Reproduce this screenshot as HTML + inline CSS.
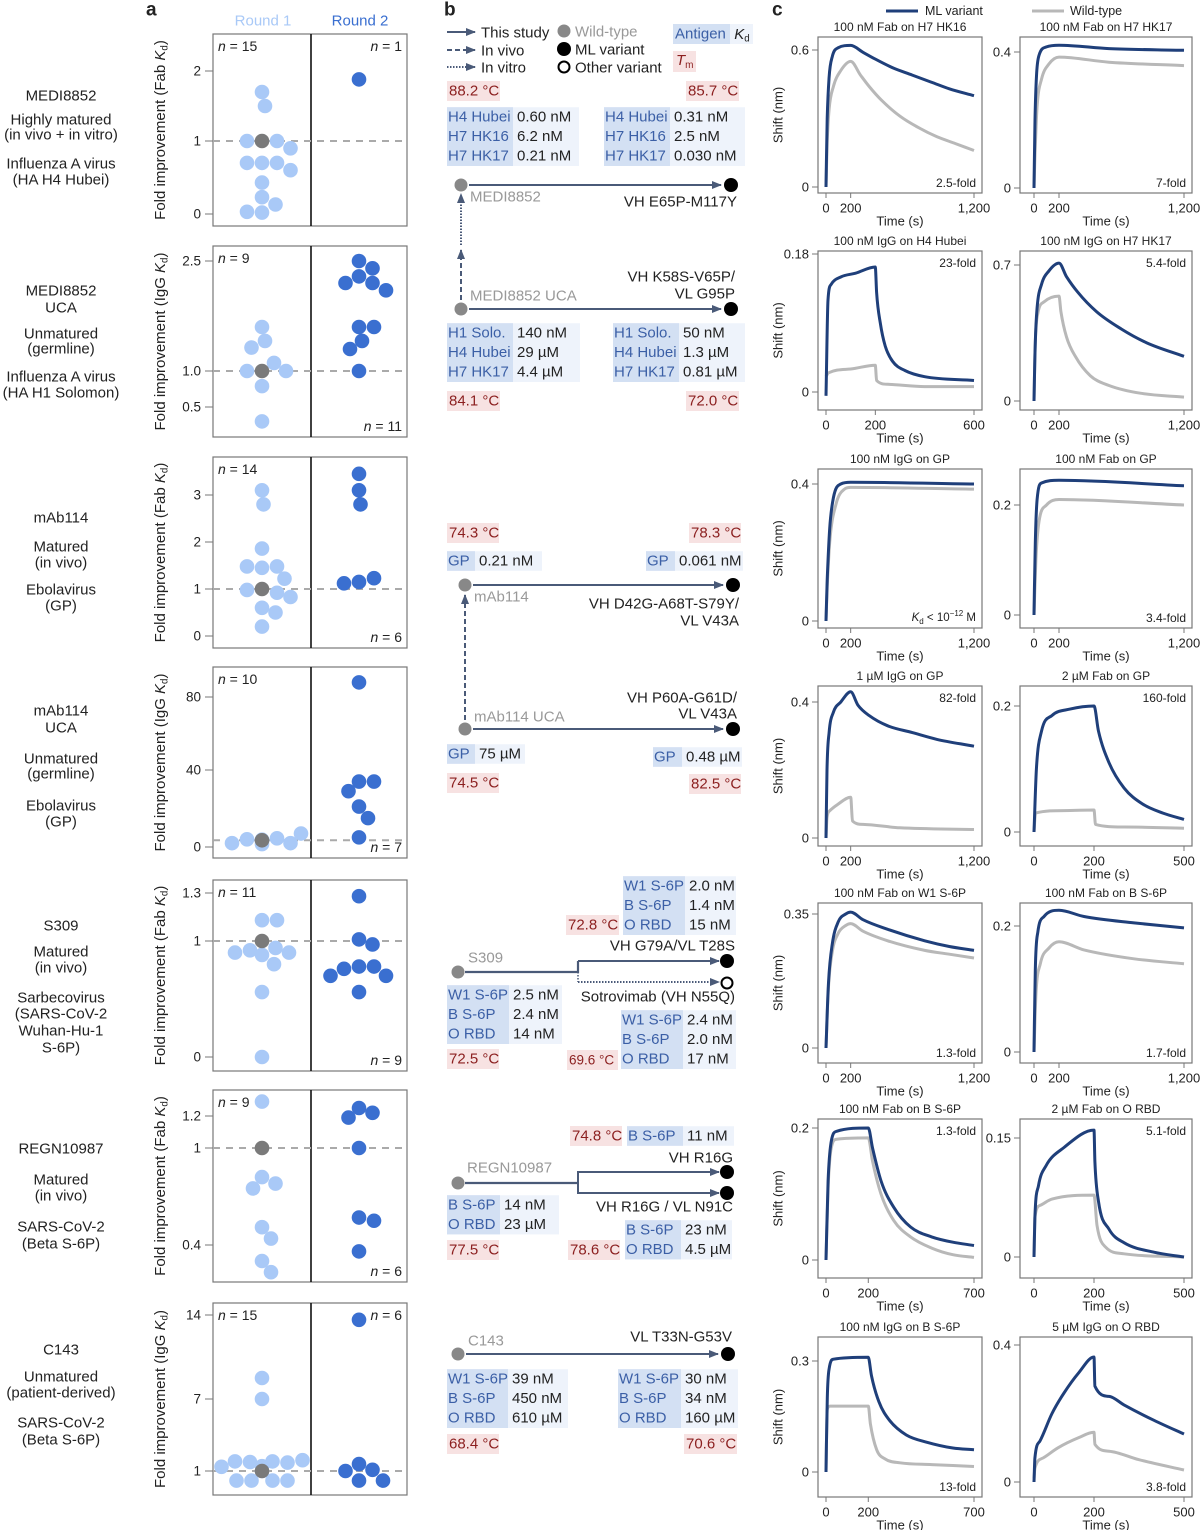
<!DOCTYPE html>
<html><head><meta charset="utf-8"><title>ML antibody affinity maturation figure</title>
<style>
html,body{margin:0;padding:0;background:#fff;}
svg{display:block;font-family:"Liberation Sans","DejaVu Sans",sans-serif;}
</style></head>
<body>
<svg id="fig" width="1200" height="1530" viewBox="0 0 1200 1530" xmlns="http://www.w3.org/2000/svg">
<defs>
<marker id="arr" markerWidth="10" markerHeight="8" refX="9" refY="4" orient="auto" markerUnits="userSpaceOnUse"><path d="M0,0 L10,4 L0,8 z" fill="#4a5a78"/></marker>
</defs>
</svg>
<script>
// ---------- Panel a data (fold improvement values) ----------
const a1_r1 = [1.7,1.5,1.0,1.0,0.9,0.7,0.7,0.7,0.6,0.43,0.23,0.13,0.02,0.03];
const a1_r2 = [1.88];
const a1_wt = [1.0];
const a2_r1 = [1.6,1.41,1.32,1.11,1.0,1.0,0.79,0.30];
const a2_r2 = [2.5,2.4,2.29,2.2,2.2,2.1,1.6,1.6,1.41,1.3,1.0];
const a2_wt = [1.0];
const a3_r1 = [3.1,2.8,1.86,1.45,1.48,1.48,1.22,0.92,0.98,0.83,0.6,0.5,0.2];
const a3_r2 = [3.45,3.1,2.8,1.15,1.23,1.12];
const a3_wt = [1.0];
const a4_r1 = [4.5,4,2,2,1.5,3,3.8,3.5,7];
const a4_r2 = [88,34,34,29,21,15,5];
const a4_wt = [3.5];
const a5_r1 = [1.13,1.13,0.94,0.92,0.9,0.9,0.88,0.8,0.56,0.0];
const a5_r2 = [1.28,1.01,0.97,0.78,0.78,0.76,0.7,0.7,0.56];
const a5_wt = [1.0];
const a6_r1 = [1.29,0.82,0.78,0.75,0.51,0.44,0.3,0.23];
const a6_r2 = [1.25,1.22,1.19,1.0,0.57,0.55,0.36];
const a6_wt = [1.0];
const a7_r1 = [8.75,7.0,1.8,1.75,1.7,1.8,1.9,1.35,1.4,1.0,0.2,0.2,0.2,0.2];
const a7_r2 = [13.6,1.58,1.1,1.0,0.2,0.2];
const a7_wt = [1.0];
const a1_ticks = [0,1,2], a2_ticks=[0.5,1.0,2.5], a3_ticks=[0,1,2,3], a4_ticks=[0,40,80], a5_ticks=[0,1,1.3], a6_ticks=[0.4,1,1.2], a7_ticks=[1,7,14];
const a_tickLabels = [["0","1","2"],["0.5","1.0","2.5"],["0","1","2","3"],["0","40","80"],["0","1","1.3"],["0.4","1","1.2"],["1","7","14"]];
const a_nLabels = [["n = 15","n = 1"],["n = 9","n = 11"],["n = 14","n = 6"],["n = 10","n = 7"],["n = 11","n = 9"],["n = 9","n = 6"],["n = 15","n = 6"]];

// ---------- Panel c data (BLI sensorgrams [time s, shift nm]) ----------
const c1_ml=[[0,0],[10,0.3],[25,0.48],[50,0.57],[100,0.61],[200,0.62],[300,0.59],[400,0.56],[550,0.52],[700,0.49],[850,0.46],[1000,0.43],[1200,0.40]];
const c1_wt=[[0,0],[10,0.2],[25,0.34],[60,0.44],[120,0.51],[200,0.55],[280,0.49],[350,0.44],[450,0.38],[600,0.31],[750,0.26],[900,0.22],[1050,0.19],[1200,0.16]];
const c2_ml=[[0,0],[8,0.2],[20,0.33],[40,0.39],[100,0.415],[200,0.42],[600,0.41],[1200,0.405]];
const c2_wt=[[0,0],[10,0.12],[25,0.24],[60,0.32],[120,0.365],[200,0.385],[600,0.37],[1200,0.36]];
const c3_ml=[[0,-0.005],[8,0.12],[20,0.14],[60,0.15],[120,0.155],[200,0.163],[205,0.13],[220,0.09],[240,0.06],[270,0.04],[320,0.028],[400,0.02],[600,0.015]];
const c3_wt=[[0,0.02],[10,0.025],[100,0.03],[200,0.035],[205,0.015],[250,0.01],[400,0.007],[600,0.007]];
const c4_ml=[[0,0],[10,0.3],[25,0.48],[60,0.6],[120,0.67],[200,0.71],[260,0.64],[350,0.56],[500,0.46],[700,0.37],[900,0.3],[1200,0.23]];
const c4_wt=[[0,0],[10,0.3],[30,0.45],[80,0.51],[200,0.54],[215,0.46],[260,0.33],[330,0.23],[450,0.13],[600,0.08],[850,0.04],[1200,0.02]];
const c5_ml=[[0,0],[10,0.12],[30,0.27],[60,0.36],[120,0.4],[200,0.405],[1200,0.4]];
const c5_wt=[[0,0],[10,0.1],[30,0.23],[80,0.34],[150,0.385],[200,0.39],[1200,0.385]];
const c6_ml=[[0,0],[10,0.13],[25,0.21],[60,0.24],[200,0.245],[1200,0.235]];
const c6_wt=[[0,0],[15,0.1],[40,0.17],[100,0.2],[200,0.21],[1200,0.2]];
const c7_ml=[[0,0],[8,0.2],[25,0.31],[60,0.37],[120,0.4],[200,0.43],[260,0.39],[350,0.36],[500,0.33],[700,0.31],[900,0.29],[1200,0.27]];
const c7_wt=[[0,0],[8,0.06],[30,0.08],[100,0.1],[200,0.12],[215,0.05],[300,0.04],[600,0.03],[1200,0.025]];
const c8_ml=[[0,0],[8,0.1],[25,0.16],[60,0.185],[120,0.195],[200,0.2],[215,0.16],[250,0.11],[300,0.07],[360,0.045],[430,0.03],[500,0.02]];
const c8_wt=[[0,0],[5,0.03],[100,0.034],[200,0.035],[205,0.012],[300,0.008],[500,0.006]];
const c9_ml=[[0,0],[20,0.17],[50,0.27],[100,0.33],[160,0.35],[200,0.355],[300,0.335],[500,0.31],[800,0.28],[1000,0.265],[1200,0.255]];
const c9_wt=[[0,0],[20,0.16],[50,0.25],[100,0.3],[160,0.32],[200,0.325],[300,0.305],[500,0.28],[800,0.255],[1000,0.245],[1200,0.235]];
const c10_ml=[[0,0],[10,0.13],[30,0.19],[80,0.215],[200,0.225],[400,0.215],[800,0.205],[1200,0.197]];
const c10_wt=[[0,0],[15,0.09],[50,0.14],[120,0.165],[200,0.175],[400,0.162],[800,0.148],[1200,0.14]];
const c11_ml=[[0,0],[10,0.12],[25,0.18],[50,0.195],[200,0.2],[220,0.17],[260,0.12],[320,0.08],[400,0.05],[500,0.035],[600,0.027],[700,0.022]];
const c11_wt=[[0,0],[10,0.11],[25,0.17],[50,0.183],[200,0.185],[220,0.15],[260,0.1],[320,0.06],[400,0.035],[500,0.018],[600,0.008],[700,0.004]];
const c12_ml=[[0,0],[3,0.05],[15,0.09],[40,0.115],[100,0.138],[200,0.16],[203,0.12],[215,0.07],[250,0.035],[300,0.018],[400,0.006],[500,0.0]];
const c12_wt=[[0,0],[3,0.05],[20,0.065],[60,0.073],[200,0.078],[210,0.04],[240,0.012],[300,0.004],[500,0.0]];
const c13_ml=[[0,0],[6,0.2],[15,0.28],[35,0.305],[200,0.31],[215,0.26],[250,0.19],[300,0.14],[380,0.1],[480,0.08],[600,0.065],[700,0.06]];
const c13_wt=[[0,0],[6,0.17],[20,0.178],[200,0.178],[210,0.13],[240,0.06],[280,0.035],[350,0.025],[500,0.02],[700,0.015]];
const c14_ml=[[0,0],[3,0.07],[20,0.12],[60,0.2],[100,0.26],[150,0.32],[200,0.365],[203,0.28],[250,0.25],[300,0.225],[400,0.18],[500,0.14]];
const c14_wt=[[0,0.01],[3,0.04],[30,0.07],[80,0.1],[150,0.13],[200,0.145],[203,0.11],[250,0.09],[350,0.065],[500,0.035]];

const NS='http://www.w3.org/2000/svg';
const svg=document.getElementById('fig');
function el(tag, attrs, name){
  const e=document.createElementNS(NS,tag);
  for(const k in attrs) e.setAttribute(k,attrs[k]);
  
  
  svg.appendChild(e);
  return e;
}
function txt(x,y,s,o,name){
  o=o||{};
  const e=el('text',{x:x,y:y,'font-size':o.size||15,fill:o.fill||'#222','text-anchor':o.anchor||'start','dominant-baseline':'central','font-weight':o.weight||'normal','font-style':o.style||'normal'},name);
  e.textContent=s;
  if(o.rot) e.setAttribute('transform','rotate('+o.rot+' '+x+' '+y+')');
  return e;
}
function kdText(x,y,pre,size,rot,name){
  const e=el('text',{x:x,y:y,'font-size':size,fill:'#222','text-anchor':'middle','dominant-baseline':'central'},name);
  if(rot) e.setAttribute('transform','rotate('+rot+' '+x+' '+y+')');
  const t1=document.createElementNS(NS,'tspan'); t1.textContent=pre; e.appendChild(t1);
  const t2=document.createElementNS(NS,'tspan'); t2.setAttribute('font-style','italic'); t2.textContent='K'; e.appendChild(t2);
  const t3=document.createElementNS(NS,'tspan'); t3.setAttribute('font-size',size*0.65); t3.setAttribute('dy',size*0.3); t3.textContent='d'; e.appendChild(t3);
  const t4=document.createElementNS(NS,'tspan'); t4.setAttribute('dy',-size*0.3); t4.textContent=')'; e.appendChild(t4);
  return e;
}

// ---------- headers ----------
txt(146,10,'a',{size:19,weight:'bold'},'panel-a-label');
txt(444,10,'b',{size:19,weight:'bold'},'panel-b-label');
txt(772,10,'c',{size:19,weight:'bold'},'panel-c-label');
txt(263,21,'Round 1',{size:15,fill:'#a9c9f7',anchor:'middle'},'round-1-header');
txt(360,21,'Round 2',{size:15,fill:'#3a6fd0',anchor:'middle'},'round-2-header');

// ---------- panel a ----------
const aLeftLabels=[
 [[96,'MEDI8852'],[120,'Highly matured'],[135,'(in vivo + in vitro)'],[164,'Influenza A virus'],[180,'(HA H4 Hubei)']],
 [[291,'MEDI8852'],[308,'UCA'],[334,'Unmatured'],[349,'(germline)'],[377,'Influenza A virus'],[393,'(HA H1 Solomon)']],
 [[518,'mAb114'],[547,'Matured'],[563,'(in vivo)'],[590,'Ebolavirus'],[606,'(GP)']],
 [[711,'mAb114'],[728,'UCA'],[759,'Unmatured'],[774,'(germline)'],[806,'Ebolavirus'],[822,'(GP)']],
 [[926,'S309'],[952,'Matured'],[968,'(in vivo)'],[998,'Sarbecovirus'],[1014,'(SARS-CoV-2'],[1031,'Wuhan-Hu-1'],[1048,'S-6P)']],
 [[1149,'REGN10987'],[1180,'Matured'],[1196,'(in vivo)'],[1227,'SARS-CoV-2'],[1244,'(Beta S-6P)']],
 [[1350,'C143'],[1377,'Unmatured'],[1393,'(patient-derived)'],[1423,'SARS-CoV-2'],[1440,'(Beta S-6P)']]
];
aLeftLabels.forEach((g,i)=>g.forEach(l=>txt(61,l[0],l[1],{anchor:'middle',size:15},'antibody-label-row'+(i+1))));

const aPanels=[
 {top:34,bot:226,r1:a1_r1,r2:a1_r2,wt:a1_wt,ticks:a1_ticks,anch:[[0,214],[1,141],[2,71]],ref:1,kind:'Fab',nPos:['tl','tr']},
 {top:246,bot:437,r1:a2_r1,r2:a2_r2,wt:a2_wt,ticks:a2_ticks,anch:[[0.5,407],[1,371],[2.5,261]],ref:1,kind:'IgG',nPos:['tl','br']},
 {top:457,bot:648,r1:a3_r1,r2:a3_r2,wt:a3_wt,ticks:a3_ticks,anch:[[0,636],[1,589],[2,542],[3,495]],ref:1,kind:'Fab',nPos:['tl','br']},
 {top:667,bot:858,r1:a4_r1,r2:a4_r2,wt:a4_wt,ticks:a4_ticks,anch:[[0,847],[40,770],[80,697]],ref:3.5,kind:'IgG',nPos:['tl','br']},
 {top:880,bot:1071,r1:a5_r1,r2:a5_r2,wt:a5_wt,ticks:a5_ticks,anch:[[0,1057],[1,941],[1.3,893]],ref:1,kind:'Fab',nPos:['tl','br']},
 {top:1090,bot:1282,r1:a6_r1,r2:a6_r2,wt:a6_wt,ticks:a6_ticks,anch:[[0.2,1277],[0.4,1245],[1,1148],[1.2,1116],[1.4,1084]],ref:1,kind:'Fab',nPos:['tl','br']},
 {top:1303,bot:1495,r1:a7_r1,r2:a7_r2,wt:a7_wt,ticks:a7_ticks,anch:[[0,1483],[1,1471],[7,1399],[14,1315]],ref:1,kind:'IgG',nPos:['tl','tr']}
];
function pw(anch,v){
  for(let i=0;i<anch.length-1;i++){
    const a=anch[i],b=anch[i+1];
    if(v<=b[0]||i===anch.length-2){return a[1]+(v-a[0])*(b[1]-a[1])/(b[0]-a[0]);}
  }
}
const R=7.3, AX0=213, AX1=407, AMID=311;
function swarm(items,cx,lo,hi){
  const placed=[];
  items.forEach(it=>{
    let best=null;
    for(let k=0;k<200;k++){
      const cand=(k%2?1:-1)*Math.ceil(k/2)*1.5;
      const x=cx+cand;
      if(x<lo||x>hi) continue;
      let ok=true;
      for(const p of placed){ if(Math.hypot(p.x-x,p.y-it.y)<2*R-0.5){ok=false;break;} }
      if(ok){best=x;break;}
    }
    if(best===null) best=cx;
    placed.push({x:best,y:it.y,c:it.c,n:it.n});
  });
  return placed;
}
aPanels.forEach((p,i)=>{
  const id=i+1;
  el('rect',{x:AX0,y:p.top,width:AX1-AX0,height:p.bot-p.top,fill:'none',stroke:'#777','stroke-width':1.2},'dot-panel-frame-'+id);
  el('line',{x1:AMID,y1:p.top,x2:AMID,y2:p.bot,stroke:'#111','stroke-width':1.6},'round-divider-'+id);
  const ry=pw(p.anch,p.ref);
  el('line',{x1:AX0,y1:ry,x2:AX1,y2:ry,stroke:'#aaa','stroke-width':2,'stroke-dasharray':'7,6'},'reference-line-'+id);
  p.ticks.forEach((t,j)=>{
    const y=pw(p.anch,t);
    el('line',{x1:AX0-8,y1:y,x2:AX0,y2:y,stroke:'#777','stroke-width':1},'y-tick-'+id);
    txt(AX0-12,y,a_tickLabels[i][j],{anchor:'end',size:13.5},'y-tick-label-'+id);
  });
  kdText(160,(p.top+p.bot)/2,'Fold improvement ('+p.kind+' ',15,-90,'y-axis-title-'+id);
  const nl=a_nLabels[i];
  const posXY=(pos)=>pos==='tl'?[218,p.top+12,'start']:pos==='tr'?[402,p.top+12,'end']:[402,p.bot-11,'end'];
  [0,1].forEach(k=>{
    const q=posXY(p.nPos[k]);
    const e=el('text',{x:q[0],y:q[1],'font-size':14,fill:'#222','text-anchor':q[2],'dominant-baseline':'central'},'n-count-'+id);
    const t1=document.createElementNS(NS,'tspan');t1.setAttribute('font-style','italic');t1.textContent='n';e.appendChild(t1);
    const t2=document.createElementNS(NS,'tspan');t2.textContent=nl[k].slice(1);e.appendChild(t2);
  });
  const left=[].concat(p.wt.map(v=>({y:pw(p.anch,v),c:'#7a7a7a',n:'wild-type-dot'})),p.r1.map(v=>({y:pw(p.anch,v),c:'#a9c9f7',n:'round1-dot'})));
  const right=p.r2.map(v=>({y:pw(p.anch,v),c:'#3a6fd0',n:'round2-dot'}));
  const L=swarm(left,262,AX0+R+1,AMID-R-1), Rr=swarm(right,359,AMID+R+1,AX1-R-1);
  L.slice(1).concat(Rr).forEach(d=>{el('circle',{cx:d.x,cy:d.y,r:R,fill:d.c},d.n+'-'+id);});
  const w=L[0]; el('circle',{cx:w.x,cy:w.y,r:R,fill:w.c},'wild-type-dot-'+id);
});

// ---------- panel b ----------
const AC='#4a5a78';
function arrowLine(x1,y1,x2,y2,dash,name){
  const a={x1:x1,y1:y1,x2:x2,y2:y2,stroke:AC,'stroke-width':2,'marker-end':'url(#arr)'};
  if(dash) a['stroke-dasharray']=dash;
  return el('line',a,name);
}
function dot(x,y,kind,name){
  if(kind==='wt') return el('circle',{cx:x,cy:y,r:6.5,fill:'#888'},name);
  if(kind==='ml') return el('circle',{cx:x,cy:y,r:7,fill:'#000'},name);
  return el('circle',{cx:x,cy:y,r:5.5,fill:'#fff',stroke:'#000','stroke-width':2},name);
}
function temp(x,y,s,w,name,size){
  el('rect',{x:x,y:y-10,width:w,height:20,fill:'#f7e2e2'},name+'-bg');
  txt(x+2,y,s,{fill:'#8b1f1f',size:size||15},name);
}
function tbl(x,y0,lw,tw,rows,name){
  const h=19.6;
  el('rect',{x:x,y:y0-h/2,width:tw,height:h*rows.length,fill:'#eef3fb'},name+'-bg');
  el('rect',{x:x,y:y0-h/2,width:lw,height:h*rows.length,fill:'#d3e0f3'},name+'-label-bg');
  rows.forEach((r,i)=>{
    txt(x+1,y0+i*h,r[0],{fill:'#3b5fa6',size:15},name+'-antigen');
    txt(x+lw+4,y0+i*h,r[1],{size:15},name+'-kd-value');
  });
}
// legend
arrowLine(447,32,475,32,null,'legend-this-study-arrow');
txt(481,33,'This study',{},'legend-this-study');
arrowLine(447,50,475,50,'5,3','legend-in-vivo-arrow');
txt(481,51,'In vivo',{},'legend-in-vivo');
arrowLine(447,67,475,67,'1.5,1.5','legend-in-vitro-arrow');
txt(481,68,'In vitro',{},'legend-in-vitro');
dot(564,31,'wt','legend-wild-type-dot'); txt(575,32,'Wild-type',{fill:'#999'},'legend-wild-type');
dot(564,49,'ml','legend-ml-dot'); txt(575,50,'ML variant',{},'legend-ml-variant');
dot(564,67,'other','legend-other-dot'); txt(575,68,'Other variant',{},'legend-other-variant');
el('rect',{x:673,y:24,width:80,height:20,fill:'#eef3fb'},'legend-kd-bg');
el('rect',{x:673,y:24,width:57,height:20,fill:'#d3e0f3'},'legend-antigen-bg');
txt(675,34,'Antigen',{fill:'#3b5fa6'},'legend-antigen');
kdText(742,34,'',15,0,'legend-kd').lastChild.textContent='';
el('rect',{x:673,y:51,width:23,height:21,fill:'#f7e2e2'},'legend-tm-bg');
(function(){const e=el('text',{x:676,y:60,'font-size':15,fill:'#8b1f1f','dominant-baseline':'central'},'legend-tm');
const t1=document.createElementNS(NS,'tspan');t1.setAttribute('font-style','italic');t1.textContent='T';e.appendChild(t1);
const t2=document.createElementNS(NS,'tspan');t2.setAttribute('font-size',10);t2.setAttribute('dy',5);t2.textContent='m';e.appendChild(t2);})();

// MEDI8852
temp(447,91,'88.2 °C',53,'tm-medi8852'); temp(686,91,'85.7 °C',53,'tm-medi8852-ml');
tbl(447,117,66,132,[['H4 Hubei','0.60 nM'],['H7 HK16','6.2 nM'],['H7 HK17','0.21 nM']],'kd-medi8852');
tbl(604,117,66,141,[['H4 Hubei','0.31 nM'],['H7 HK16','2.5 nM'],['H7 HK17','0.030 nM']],'kd-medi8852-ml');
arrowLine(469,185,721,185,null,'arrow-medi8852');
dot(461,185,'wt','dot-medi8852'); dot(731,185,'ml','dot-medi8852-ml');
txt(470,197,'MEDI8852',{fill:'#999'},'name-medi8852');
txt(737,202,'VH E65P-M117Y',{anchor:'end'},'mut-medi8852');
arrowLine(461,245,461,194,'1.5,1.5','arrow-in-vitro-medi8852');
arrowLine(461,300,461,250,'5,3','arrow-in-vivo-medi8852');
temp(447,401,'84.1 °C',53,'tm-medi8852-uca'); temp(686,401,'72.0 °C',53,'tm-medi8852-uca-ml');
tbl(447,333,66,133,[['H1 Solo.','140 nM'],['H4 Hubei','29 µM'],['H7 HK17','4.4 µM']],'kd-medi8852-uca');
tbl(613,333,66,132,[['H1 Solo.','50 nM'],['H4 Hubei','1.3 µM'],['H7 HK17','0.81 µM']],'kd-medi8852-uca-ml');
arrowLine(469,309,721,309,null,'arrow-medi8852-uca');
dot(461,309,'wt','dot-medi8852-uca'); dot(731,309,'ml','dot-medi8852-uca-ml');
txt(470,296,'MEDI8852 UCA',{fill:'#999'},'name-medi8852-uca');
txt(735,277,'VH K58S-V65P/',{anchor:'end'},'mut-medi8852-uca-1');
txt(735,294,'VL G95P',{anchor:'end'},'mut-medi8852-uca-2');

// mAb114
temp(447,533,'74.3 °C',52,'tm-mab114'); temp(689,533,'78.3 °C',52,'tm-mab114-ml');
tbl(447,561,28,95,[['GP','0.21 nM']],'kd-mab114');
tbl(646,561,29,97,[['GP','0.061 nM']],'kd-mab114-ml');
arrowLine(473,585,723,585,null,'arrow-mab114');
dot(465,585,'wt','dot-mab114'); dot(733,585,'ml','dot-mab114-ml');
txt(474,597,'mAb114',{fill:'#999'},'name-mab114');
txt(739,604,'VH D42G-A68T-S79Y/',{anchor:'end'},'mut-mab114-1');
txt(739,621,'VL V43A',{anchor:'end'},'mut-mab114-2');
arrowLine(465,720,465,595,'5,3','arrow-in-vivo-mab114');
temp(447,783,'74.5 °C',52,'tm-mab114-uca'); temp(689,784,'82.5 °C',52,'tm-mab114-uca-ml');
tbl(447,754,28,78,[['GP','75 µM']],'kd-mab114-uca');
tbl(653,757,29,89,[['GP','0.48 µM']],'kd-mab114-uca-ml');
arrowLine(473,729,723,729,null,'arrow-mab114-uca');
dot(465,729,'wt','dot-mab114-uca'); dot(733,729,'ml','dot-mab114-uca-ml');
txt(474,717,'mAb114 UCA',{fill:'#999'},'name-mab114-uca');
txt(737,698,'VH P60A-G61D/',{anchor:'end'},'mut-mab114-uca-1');
txt(737,714,'VL V43A',{anchor:'end'},'mut-mab114-uca-2');

// S309
tbl(623,886,62,113,[['W1 S-6P','2.0 nM'],['B S-6P','1.4 nM'],['O RBD','15 nM']],'kd-s309-ml');
temp(566,925,'72.8 °C',53,'tm-s309-ml');
txt(735,946,'VH G79A/VL T28S',{anchor:'end'},'mut-s309');
el('polyline',{points:'465,972 578,972 578,961',fill:'none',stroke:AC,'stroke-width':2.2},'branch-s309');
arrowLine(578,961,719,961,null,'arrow-s309-ml');
el('line',{x1:578,y1:972,x2:578,y2:982,stroke:AC,'stroke-width':1.5,'stroke-dasharray':'1.5,1.5'},'branch-s309-dotted');
arrowLine(578,982,719,982,'1.5,1.5','arrow-sotrovimab');
dot(458,972,'wt','dot-s309'); dot(727,961,'ml','dot-s309-ml'); dot(727,983,'other','dot-sotrovimab');
txt(468,958,'S309',{fill:'#999'},'name-s309');
txt(735,997,'Sotrovimab (VH N55Q)',{anchor:'end'},'name-sotrovimab');
tbl(447,995,62,115,[['W1 S-6P','2.5 nM'],['B S-6P','2.4 nM'],['O RBD','14 nM']],'kd-s309');
temp(447,1059,'72.5 °C',52,'tm-s309');
temp(567,1060,'69.6 °C',51,'tm-sotrovimab',13.5);
tbl(621,1020,62,115,[['W1 S-6P','2.4 nM'],['B S-6P','2.0 nM'],['O RBD','17 nM']],'kd-sotrovimab');

// REGN10987
temp(570,1136,'74.8 °C',52,'tm-regn-ml1');
tbl(627,1136,56,107,[['B S-6P','11 nM']],'kd-regn-ml1');
txt(733,1158,'VH R16G',{anchor:'end'},'mut-regn-1');
el('polyline',{points:'465,1183 578,1183',fill:'none',stroke:AC,'stroke-width':2.2},'stem-regn');
el('line',{x1:578,y1:1171,x2:578,y2:1194,stroke:AC,'stroke-width':2},'branch-regn');
arrowLine(578,1172,719,1172,null,'arrow-regn-ml1');
arrowLine(578,1193,719,1193,null,'arrow-regn-ml2');
dot(458,1183,'wt','dot-regn'); dot(727,1172,'ml','dot-regn-ml1'); dot(727,1193,'ml','dot-regn-ml2');
txt(467,1168,'REGN10987',{fill:'#999'},'name-regn');
txt(733,1207,'VH R16G / VL N91C',{anchor:'end'},'mut-regn-2');
tbl(447,1205,53,112,[['B S-6P','14 nM'],['O RBD','23 µM']],'kd-regn');
temp(447,1250,'77.5 °C',52,'tm-regn');
tbl(625,1230,56,107,[['B S-6P','23 nM'],['O RBD','4.5 µM']],'kd-regn-ml2');
temp(568,1250,'78.6 °C',52,'tm-regn-ml2');

// C143
arrowLine(466,1354,718,1354,null,'arrow-c143');
dot(458,1354,'wt','dot-c143'); dot(728,1354,'ml','dot-c143-ml');
txt(468,1341,'C143',{fill:'#999'},'name-c143');
txt(732,1337,'VL T33N-G53V',{anchor:'end'},'mut-c143');
tbl(447,1379,61,121,[['W1 S-6P','39 nM'],['B S-6P','450 nM'],['O RBD','610 µM']],'kd-c143');
tbl(618,1379,63,120,[['W1 S-6P','30 nM'],['B S-6P','34 nM'],['O RBD','160 µM']],'kd-c143-ml');
temp(447,1444,'68.4 °C',52,'tm-c143'); temp(684,1444,'70.6 °C',53,'tm-c143-ml');

// ---------- panel c ----------
// monotone cubic (Fritsch-Carlson) path through pixel points
function monoPath(P){
  const n=P.length; if(n<2) return '';
  const d=[],m=[];
  for(let i=0;i<n-1;i++) d.push((P[i+1][1]-P[i][1])/((P[i+1][0]-P[i][0])||1e-6));
  m.push(d[0]);
  for(let i=1;i<n-1;i++) m.push(d[i-1]*d[i]<=0?0:(d[i-1]+d[i])/2);
  m.push(d[n-2]);
  for(let i=0;i<n-1;i++){
    if(d[i]===0){m[i]=0;m[i+1]=0;continue;}
    const a=m[i]/d[i],b=m[i+1]/d[i],s=a*a+b*b;
    if(s>9){const t=3/Math.sqrt(s);m[i]=t*a*d[i];m[i+1]=t*b*d[i];}
  }
  let s='M'+P[0][0].toFixed(1)+','+P[0][1].toFixed(1);
  for(let i=0;i<n-1;i++){
    const h=(P[i+1][0]-P[i][0])/3;
    s+=' C'+(P[i][0]+h).toFixed(1)+','+(P[i][1]+m[i]*h).toFixed(1)+' '+(P[i+1][0]-h).toFixed(1)+','+(P[i+1][1]-m[i+1]*h).toFixed(1)+' '+P[i+1][0].toFixed(1)+','+P[i+1][1].toFixed(1);
  }
  return s;
}
el('line',{x1:886,y1:11,x2:918,y2:11,stroke:'#1f3f7a','stroke-width':3},'legend-ml-line');
txt(925,11,'ML variant',{size:12.5},'legend-ml-text');
el('line',{x1:1032,y1:11,x2:1064,y2:11,stroke:'#b8b8b8','stroke-width':3},'legend-wt-line');
txt(1070,11,'Wild-type',{size:12.5},'legend-wt-text');
const rows=[[37,193],[251,410],[469,628],[686,846],[903,1063],[1119,1278],[1337,1497]];
const cPanels=[
 {r:0,c:'L',xmax:1200,y0:187,yt:[0.6,50],title:'100 nM Fab on H7 HK16',fold:'2.5-fold',fp:'b',ml:c1_ml,wt:c1_wt},
 {r:0,c:'R',xmax:1200,y0:188,yt:[0.4,52],title:'100 nM Fab on H7 HK17',fold:'7-fold',fp:'b',ml:c2_ml,wt:c2_wt},
 {r:1,c:'L',xmax:600,y0:392,yt:[0.18,254],title:'100 nM IgG on H4 Hubei',fold:'23-fold',fp:'t',ml:c3_ml,wt:c3_wt},
 {r:1,c:'R',xmax:1200,y0:401,yt:[0.7,265],title:'100 nM IgG on H7 HK17',fold:'5.4-fold',fp:'t',ml:c4_ml,wt:c4_wt},
 {r:2,c:'L',xmax:1200,y0:621,yt:[0.4,484],title:'100 nM IgG on GP',fold:'',fp:'b',ml:c5_ml,wt:c5_wt},
 {r:2,c:'R',xmax:1200,y0:615,yt:[0.2,505],title:'100 nM Fab on GP',fold:'3.4-fold',fp:'b',ml:c6_ml,wt:c6_wt},
 {r:3,c:'L',xmax:1200,y0:838,yt:[0.4,702],title:'1 µM IgG on GP',fold:'82-fold',fp:'t',ml:c7_ml,wt:c7_wt},
 {r:3,c:'R',xmax:500,y0:832,yt:[0.2,706],title:'2 µM Fab on GP',fold:'160-fold',fp:'t',ml:c8_ml,wt:c8_wt},
 {r:4,c:'L',xmax:1200,y0:1048,yt:[0.35,914],title:'100 nM Fab on W1 S-6P',fold:'1.3-fold',fp:'b',ml:c9_ml,wt:c9_wt},
 {r:4,c:'R',xmax:1200,y0:1052,yt:[0.2,926],title:'100 nM Fab on B S-6P',fold:'1.7-fold',fp:'b',ml:c10_ml,wt:c10_wt},
 {r:5,c:'L',xmax:700,y0:1260,yt:[0.2,1128],title:'100 nM Fab on B S-6P',fold:'1.3-fold',fp:'t',ml:c11_ml,wt:c11_wt},
 {r:5,c:'R',xmax:500,y0:1257,yt:[0.15,1138],title:'2 µM Fab on O RBD',fold:'5.1-fold',fp:'t',ml:c12_ml,wt:c12_wt},
 {r:6,c:'L',xmax:700,y0:1472,yt:[0.3,1361],title:'100 nM IgG on B S-6P',fold:'13-fold',fp:'b',ml:c13_ml,wt:c13_wt},
 {r:6,c:'R',xmax:500,y0:1482,yt:[0.4,1345],title:'5 µM IgG on O RBD',fold:'3.8-fold',fp:'b',ml:c14_ml,wt:c14_wt}
];
const COLS={L:{b0:818,b1:982,d0:826,d1:974},R:{b0:1020,b1:1192,d0:1034,d1:1184}};
cPanels.forEach((p,i)=>{
  const id=i+1, C=COLS[p.c], top=rows[p.r][0], bot=rows[p.r][1];
  const sx=t=>C.d0+t*(C.d1-C.d0)/p.xmax;
  const sy=v=>p.y0-v*(p.y0-p.yt[1])/p.yt[0];
  el('rect',{x:C.b0,y:top,width:C.b1-C.b0,height:bot-top,fill:'none',stroke:'#777','stroke-width':1.2},'sensorgram-frame-'+id);
  txt((C.b0+C.b1)/2,top-10,p.title,{anchor:'middle',size:12},'sensorgram-title-'+id);
  [[0,'0'],[p.yt[0],String(p.yt[0])]].forEach(t=>{
    const y=sy(t[0]);
    el('line',{x1:C.b0-6,y1:y,x2:C.b0,y2:y,stroke:'#777'},'c-y-tick-'+id);
    txt(C.b0-9,y,t[1],{anchor:'end',size:13},'c-y-tick-label-'+id);
  });
  [0,200,p.xmax].forEach(t=>{
    const x=sx(t);
    el('line',{x1:x,y1:bot,x2:x,y2:bot+5,stroke:'#777'},'c-x-tick-'+id);
    txt(x,bot+15,t>=1000?t.toLocaleString('en-US'):String(t),{anchor:'middle',size:13},'c-x-tick-label-'+id);
  });
  txt((C.b0+C.b1)/2,bot+28,'Time (s)',{anchor:'middle',size:13},'c-x-axis-title-'+id);
  if(p.c==='L') txt(778,(top+bot)/2,'Shift (nm)',{anchor:'middle',size:13,rot:-90},'c-y-axis-title-'+id);
  el('path',{d:monoPath(p.wt.map(d=>[sx(d[0]),sy(d[1])])),fill:'none',stroke:'#b8b8b8','stroke-width':3,'stroke-linejoin':'round'},'wild-type-curve-'+id);
  el('path',{d:monoPath(p.ml.map(d=>[sx(d[0]),sy(d[1])])),fill:'none',stroke:'#1f3f7a','stroke-width':3,'stroke-linejoin':'round'},'ml-variant-curve-'+id);
  if(p.fold){
    const fy=p.fp==='t'?top+12:bot-10;
    txt(C.b1-6,fy,p.fold,{anchor:'end',size:12},'fold-label-'+id);
  }
});
// Kd < 10^-12 M annotation
(function(){const e=el('text',{x:976,y:618,'font-size':11.5,fill:'#222','text-anchor':'end','dominant-baseline':'central'},'kd-limit-note');
const a=document.createElementNS(NS,'tspan');a.setAttribute('font-style','italic');a.textContent='K';e.appendChild(a);
const b=document.createElementNS(NS,'tspan');b.setAttribute('font-size',8);b.setAttribute('dy',3);b.textContent='d';e.appendChild(b);
const c=document.createElementNS(NS,'tspan');c.setAttribute('dy',-3);c.textContent=' < 10';e.appendChild(c);
const d=document.createElementNS(NS,'tspan');d.setAttribute('font-size',8);d.setAttribute('dy',-5);d.textContent='−12';e.appendChild(d);
const f=document.createElementNS(NS,'tspan');f.setAttribute('dy',5);f.textContent=' M';e.appendChild(f);})();
</script>
</body></html>
